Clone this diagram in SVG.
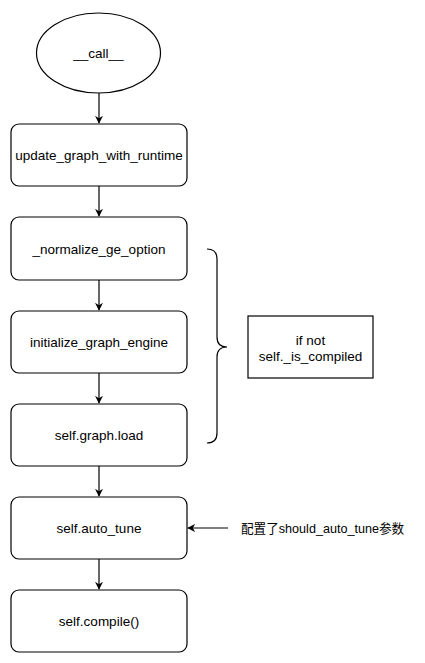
<svg xmlns="http://www.w3.org/2000/svg" width="425" height="663" viewBox="0 0 425 663">
<style>
.n{fill:#fff;stroke:#000;stroke-width:1.2}
.t{font-family:"Liberation Sans",Arial,sans-serif;font-size:13.5px;fill:#000;text-anchor:middle}
.c{fill:none;stroke:#000;stroke-width:1.2}
.cj{font-family:"Liberation Sans","Noto Sans CJK SC",sans-serif;font-size:12.6px;fill:#000}
</style>
<defs>
<marker id="ah" viewBox="0 0 10 10" refX="9" refY="5" markerWidth="8" markerHeight="8" markerUnits="userSpaceOnUse" orient="auto">
<path d="M0,0 L10,5 L0,10 L3,5 Z" fill="#000"/>
</marker>
</defs>
<rect width="425" height="663" fill="#fff"/>
<g id="connectors">
<line class="c" x1="99" y1="93" x2="99" y2="123" marker-end="url(#ah)"/>
<line class="c" x1="99" y1="186" x2="99" y2="216" marker-end="url(#ah)"/>
<line class="c" x1="99" y1="280" x2="99" y2="310" marker-end="url(#ah)"/>
<line class="c" x1="99" y1="373" x2="99" y2="403" marker-end="url(#ah)"/>
<line class="c" x1="99" y1="466" x2="99" y2="496" marker-end="url(#ah)"/>
<line class="c" x1="99" y1="559" x2="99" y2="589" marker-end="url(#ah)"/>
<line class="c" x1="228" y1="528" x2="188" y2="528" marker-end="url(#ah)"/>
<path class="c" d="M207,249 Q217,249 217,259 L217,337 Q217,347 227,347 Q217,347 217,357 L217,433 Q217,443 207,443"/>
</g>
<g id="call">
<ellipse class="n" cx="98.5" cy="53" rx="62" ry="40"/>
<text class="t" x="98.5" y="58">__call__</text>
</g>
<g id="update_graph_with_runtime">
<rect class="n" x="11" y="124" width="176" height="62" rx="8"/>
<text class="t" x="99" y="160">update_graph_with_runtime</text>
</g>
<g id="normalize_ge_option">
<rect class="n" x="11" y="217" width="176" height="63" rx="8"/>
<text class="t" x="99" y="254">_normalize_ge_option</text>
</g>
<g id="initialize_graph_engine">
<rect class="n" x="11" y="311" width="176" height="62" rx="8"/>
<text class="t" x="99" y="347">initialize_graph_engine</text>
</g>
<g id="graph_load">
<rect class="n" x="11" y="404" width="176" height="62" rx="8"/>
<text class="t" x="99" y="440">self.graph.load</text>
</g>
<g id="auto_tune">
<rect class="n" x="11" y="497" width="176" height="62" rx="8"/>
<text class="t" x="99" y="533">self.auto_tune</text>
</g>
<g id="compile">
<rect class="n" x="11" y="590" width="176" height="62" rx="8"/>
<text class="t" x="99" y="626">self.compile()</text>
</g>
<g id="if_not_compiled">
<rect class="n" x="248" y="316" width="125" height="62"/>
<text class="t" x="310.5" y="345">if not</text>
<text class="t" x="310.5" y="361">self._is_compiled</text>
</g>
<g id="auto_tune_note">
<text class="cj" x="241" y="533">配置了should_auto_tune参数</text>
</g>
</svg>
